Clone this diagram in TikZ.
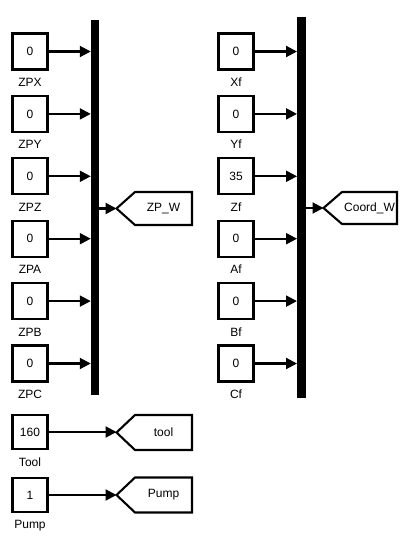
\documentclass[tikz,border=0pt]{standalone}
\usepackage{fontspec}
\setmainfont{Liberation Sans}
\usetikzlibrary{arrows.meta,calc}
\tikzset{
  constbox/.style={draw, line width=2.1pt, minimum width=35pt, minimum height=36pt, inner sep=0pt, outer sep=0pt, font=\fontsize{12}{14}\selectfont},
  blabel/.style={anchor=base, inner sep=0pt, font=\fontsize{12}{14}\selectfont},
  busbar/.style={fill=black, draw=none, inner sep=0pt, outer sep=0pt},
  gotobody/.style={draw=none, inner sep=0pt, outer sep=0pt, minimum width=57pt, minimum height=33pt, font=\fontsize{12}{14}\selectfont},
  gotoline/.style={line width=2.1pt, line join=miter},
  sig/.style={line width=2.1pt, -{Triangle[length=11pt,width=11pt]}}
}
\begin{document}
\begin{tikzpicture}[x=1pt,y=-1pt]
\useasboundingbox (0,0) rectangle (402,537);
% bus bars
\node[busbar, minimum width=8.5pt, minimum height=375pt] (busL) at (95,207.5) {};
\node[busbar, minimum width=9pt, minimum height=381pt] (busR) at (301.5,207.5) {};
% left constants
\foreach \nm/\lab/\val [count=\i from 0] in {zpx/ZPX/0, zpy/ZPY/0, zpz/ZPZ/0, zpa/ZPA/0, zpb/ZPB/0, zpc/ZPC/0} {
  \node[constbox] (\nm) at (30, 51.5+62.4*\i) {\val};
  \node[blabel] (\nm lab) at ($(\nm.south)+(0,17)$) {\lab};
  \draw[sig] (\nm.east) -- (\nm.east -| busL.west);
}
% right constants
\foreach \nm/\lab/\val [count=\i from 0] in {xf/Xf/0, yf/Yf/0, zf/Zf/35, af/Af/0, bf/Bf/0, cf/Cf/0} {
  \node[constbox] (\nm) at (236, 51.5+62.4*\i) {\val};
  \node[blabel] (\nm lab) at ($(\nm.south)+(0,17)$) {\lab};
  \draw[sig] (\nm.east) -- (\nm.east -| busR.west);
}
% tool and pump constants
\node[constbox, minimum height=34pt] (tool) at (30,432) {160};
\node[blabel] (toollab) at ($(tool.south)+(0,17.5)$) {Tool};
\node[constbox, minimum height=34pt] (pump) at (30,495) {1};
\node[blabel] (pumplab) at ($(pump.south)+(0,16)$) {Pump};
% goto blocks
\node[gotobody] (zpw) at (163.5,208.5) {ZP\_W};
\node[gotobody, minimum width=55pt, minimum height=32pt] (coordw) at (369.5,208) {Coord\_W};
\node[gotobody, minimum height=35pt] (toolg) at (163.5,432.5) {tool};
\node[gotobody, minimum height=35pt] (pumpg) at (163.5,495) {Pump};
\foreach \g in {zpw, coordw, toolg, pumpg} {
  \coordinate (\g tip) at ($(\g.west)+(-18.5,0)$);
  \draw[gotoline] (\g.north west) -- (\g.north east) -- (\g.south east) -- (\g.south west) -- (\g tip) -- cycle;
}
% connections to goto blocks
\draw[sig] (busL.east |- zpwtip) -- (zpwtip);
\draw[sig] (busR.east |- coordwtip) -- (coordwtip);
\draw[sig] (tool.east) -- (tool.east -| toolgtip);
\draw[sig] (pump.east) -- (pump.east -| pumpgtip);
\end{tikzpicture}
\end{document}
